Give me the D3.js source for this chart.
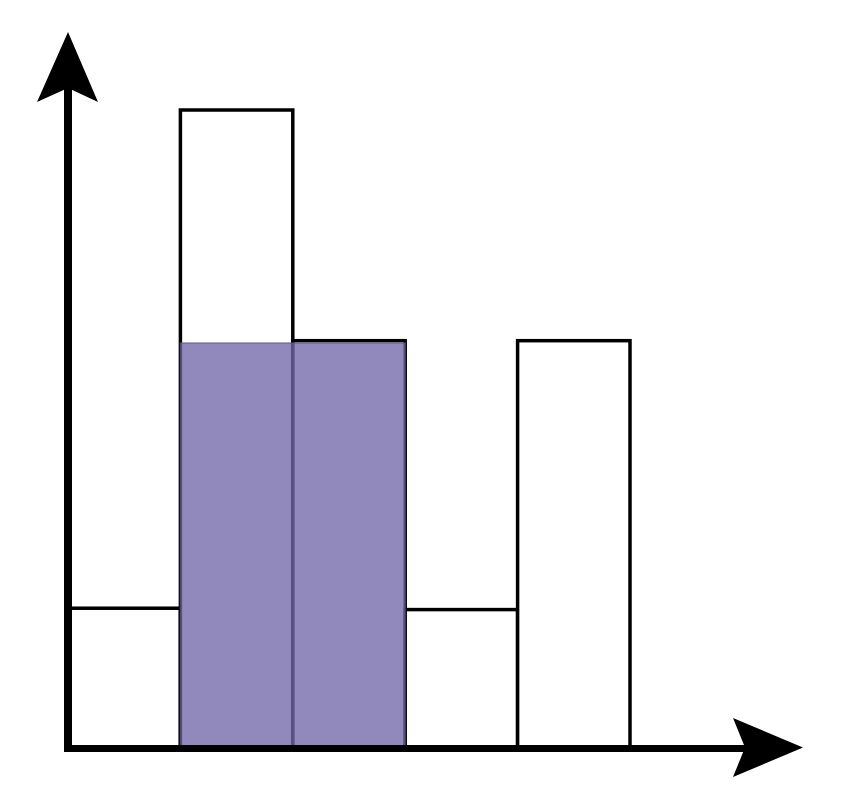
<!DOCTYPE html>
<html>
<head>
<meta charset="utf-8">
<script src="https://cdn.jsdelivr.net/npm/d3@7"></script>
<style>
  html, body { margin: 0; padding: 0; background: #ffffff; }
  svg { display: block; }
</style>
</head>
<body>
<svg id="chart" width="846" height="792"></svg>
<script>
// ---- data ----
const binEdges = [0, 1, 2, 3, 4, 5];
const binCounts = [3.05, 14, 8.93, 3.02, 8.93];
const highlightBins = [1, 2];
const highlightValues = [8.88, 8.88];

// ---- layout ----
const svg = d3.select("#chart");
const x = d3.scaleLinear().domain([0, 5]).range([68, 630]);
const y = d3.scaleLinear().domain([0, 14]).range([747, 110]);

const bins = binCounts.map((v, i) => ({ x0: binEdges[i], x1: binEdges[i + 1], v }));

// outlined histogram bars
svg.append("g")
  .selectAll("rect")
  .data(bins)
  .join("rect")
  .attr("x", d => x(d.x0))
  .attr("y", d => y(d.v))
  .attr("width", d => x(d.x1) - x(d.x0))
  .attr("height", d => y(0) - y(d.v))
  .attr("fill", "#ffffff")
  .attr("stroke", "#000000")
  .attr("stroke-width", 3.5);

// highlighted (purple) overlay
const hi = highlightBins.map((b, i) => ({ x0: binEdges[b], x1: binEdges[b + 1], v: highlightValues[i] }));
svg.append("g")
  .selectAll("rect")
  .data(hi)
  .join("rect")
  .attr("x", d => x(d.x0))
  .attr("y", d => y(d.v))
  .attr("width", d => x(d.x1) - x(d.x0))
  .attr("height", d => y(0) - y(d.v))
  .attr("fill", "rgb(114,102,168)")
  .attr("fill-opacity", 0.78)
  .attr("stroke", "rgb(90,80,128)")
  .attr("stroke-opacity", 0.6)
  .attr("stroke-width", 1.5);

// axes with arrowheads
const ax = svg.append("g");
const x0px = x.range()[0];
const y0px = y(0) + 1.5;

ax.append("line")
  .attr("x1", x0px).attr("y1", y0px + 3.5)
  .attr("x2", x0px).attr("y2", 88)
  .attr("stroke", "#000").attr("stroke-width", 8);

ax.append("line")
  .attr("x1", x0px - 4).attr("y1", y0px)
  .attr("x2", 746).attr("y2", y0px)
  .attr("stroke", "#000").attr("stroke-width", 7);

ax.append("path")
  .attr("d", `M${x0px},32 L98,102 L${x0px},88 L37,102 Z`)
  .attr("fill", "#000");

ax.append("path")
  .attr("d", `M803,${y0px - 1} L733,777 L745,${y0px - 1} L733,718 Z`)
  .attr("fill", "#000");
</script>
</body>
</html>
